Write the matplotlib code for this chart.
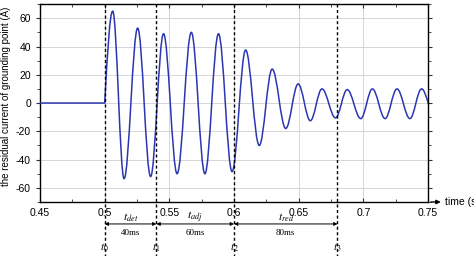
import numpy as np
import matplotlib.pyplot as plt
from matplotlib.path import Path
from matplotlib.patches import PathPatch
from matplotlib.ticker import MultipleLocator

plt.rcParams['font.family'] = ['Liberation Sans', 'DejaVu Sans']
plt.rcParams['axes.unicode_minus'] = False
plt.rcParams['mathtext.fontset'] = 'stix'

# --- data ---
# flat part before the fault, then the extrema of the residual current
pre_t = [0.45, 0.50]
pre_i = [0.0, 0.0]
ext_t = [0.5062, 0.515, 0.5255, 0.5355, 0.5455, 0.556, 0.567, 0.5775, 0.588, 0.5985,
         0.609, 0.6195, 0.6295, 0.640, 0.6496, 0.659, 0.668, 0.6785, 0.6875, 0.698,
         0.707, 0.7168, 0.726, 0.736, 0.745, 0.7555]
ext_i = [65, -53.5, 53, -52, 49, -50, 50, -50, 49, -48.5,
         37.5, -30, 24, -18, 13.5, -12.5, 10, -10.5, 9.5, -11,
         10, -11, 10, -11, 10, -11]

xticks = [0.45, 0.5, 0.55, 0.6, 0.65, 0.7, 0.75]
xticklabels = ['0.45', '0.5', '0.55', '0.6', '0.65', '0.7', '0.75']
yticks = [-60, -40, -20, 0, 20, 40, 60]

# stage markers
marks_t = [0.5, 0.54, 0.6, 0.68]
marks_lbl = ['$t_0$', '$t_1$', '$t_2$', '$t_3$']
stage_lbl = ['$t_{det}$', '$t_{adj}$', '$t_{red}$']
stage_len = ['40ms', '60ms', '80ms']

fig = plt.figure(figsize=(4.74, 2.56), dpi=100)
ax = fig.add_axes([0.0844, 0.211, 0.8186, 0.773])

# waveform: straight flat part, then smooth (bezier) half waves between extrema
verts = [(pre_t[0], pre_i[0]), (pre_t[1], pre_i[1])]
codes = [Path.MOVETO, Path.LINETO]
# first rise (quarter wave, steep start)
dt = ext_t[0] - pre_t[1]
verts += [(pre_t[1] + 0.36 * dt, 0.565 * ext_i[0]), (ext_t[0] - 0.36 * dt, ext_i[0]), (ext_t[0], ext_i[0])]
codes += [Path.CURVE4] * 3
k = 0.3634
for i in range(1, len(ext_t)):
    t0, t1 = ext_t[i - 1], ext_t[i]
    d = t1 - t0
    verts += [(t0 + k * d, ext_i[i - 1]), (t1 - k * d, ext_i[i]), (t1, ext_i[i])]
    codes += [Path.CURVE4] * 3
ax.add_patch(PathPatch(Path(verts, codes), fill=False, edgecolor='#2b36b3', lw=1.1, zorder=3))

ax.set_xlim(0.45, 0.75)
ax.set_ylim(-70, 70)
ax.set_xticks(xticks)
ax.set_xticklabels(xticklabels)
ax.set_yticks(yticks)
ax.xaxis.set_minor_locator(MultipleLocator(0.025))
ax.yaxis.set_minor_locator(MultipleLocator(10))
ax.grid(True, color='#d0d0d0', lw=0.6)
ax.set_axisbelow(True)
ax.tick_params(axis='both', which='both', labelsize=7.5, color='#333333')
ax.tick_params(axis='x', which='both', direction='in', top=True, pad=4)
ax.tick_params(axis='y', which='both', direction='out', right=True)
ax.tick_params(which='major', length=3)
ax.tick_params(which='minor', length=2)
for s in ax.spines.values():
    s.set_linewidth(1.0)

# arrow on the time axis
ax.annotate('', xy=(1.04, 0), xytext=(1.0, 0), xycoords='axes fraction',
            arrowprops=dict(arrowstyle='-|>', lw=1.0, color='black', mutation_scale=6),
            annotation_clip=False)
ax.text(1.045, 0, 'time (s)', transform=ax.transAxes, ha='left', va='center', fontsize=7.5)

fig.text(0.012, 0.625, 'the residual current of grounding point (A)', rotation=90,
         ha='center', va='center', fontsize=7)

# stage lines and arrows
trans = ax.get_xaxis_transform()
for t, lbl in zip(marks_t, marks_lbl):
    ax.axvline(t, ymin=-0.3, ymax=1, color='black', ls=(0, (2.2, 1.8)), lw=1.0, clip_on=False, zorder=4)
    ax.text(t, -0.232, lbl, transform=trans, ha='center', va='center', fontsize=8)
for j in range(3):
    a, b = marks_t[j], marks_t[j + 1]
    ax.annotate('', xy=(b, -0.111), xytext=(a, -0.111), xycoords=trans,
                arrowprops=dict(arrowstyle='<|-|>', lw=0.7, color='black', mutation_scale=5,
                                shrinkA=0, shrinkB=0),
                annotation_clip=False)
    ax.text((a + b) / 2, -0.08, stage_lbl[j], transform=trans, ha='center', va='center', fontsize=8.5)
    ax.text((a + b) / 2, -0.155, stage_len[j], transform=trans, ha='center', va='center',
            fontsize=6.5, family='Liberation Serif')

fig.savefig('out.png', dpi=100)
